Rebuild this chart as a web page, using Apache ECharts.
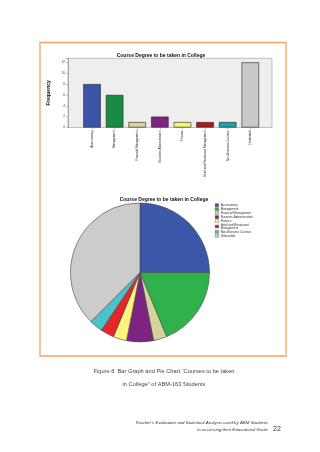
<!DOCTYPE html>
<html>
<head>
<meta charset="utf-8">
<script src="https://cdn.jsdelivr.net/npm/echarts@6/dist/echarts.min.js"></script>
<style>
  html, body { margin: 0; padding: 0; background: #fff; }
  #main { width: 320px; height: 452px; }
</style>
</head>
<body>
<div id="main"></div>
<script>
// course degree data (ABM-163 students)
const categories = [
  'Accountancy', 'Management', 'Financial Management', 'Business Administration',
  'Finance', 'Hotel and Restaurant Management', 'Non-Business Courses', 'Undecided'
];
const frequencies = [8, 6, 1, 2, 1, 1, 1, 12];
const barColors = ['#3b55a6', '#178c42', '#d9d59e', '#7d2480', '#f8f47a', '#b3161d', '#16a5a8', '#c9c9c9'];
const pieColors = ['#3a57a8', '#2fb24c', '#d6d29c', '#7b2481', '#fbf67c', '#e8262a', '#49c3c9', '#cccccc'];
const chartTitle = 'Course Degree to be taken in College';

const font = 'Liberation Sans, Arial, sans-serif';
const chart = echarts.init(document.getElementById('main'), null, { renderer: 'canvas' });

const option = {
  backgroundColor: '#fff',
  animation: false,
  title: [
    { text: chartTitle, left: 161, top: 53, textAlign: 'center', padding: 0,
      textStyle: { fontFamily: font, fontSize: 5, fontWeight: 'bold', color: '#111' } },
    { text: chartTitle, left: 164, top: 197, textAlign: 'center', padding: 0,
      textStyle: { fontFamily: font, fontSize: 5, fontWeight: 'bold', color: '#111' } }
  ],
  grid: { left: 80.7, right: 58.4, top: 58.3, bottom: 324.5, containLabel: false },
  xAxis: {
    type: 'category',
    data: categories,
    axisLine: { show: false },
    axisTick: { show: true, length: 1.5, lineStyle: { color: '#555', width: 0.5 }, alignWithLabel: true },
    axisLabel: { rotate: 90, margin: 3, fontSize: 3, fontFamily: font, color: '#333', interval: 0 }
  },
  yAxis: {
    type: 'value',
    min: 0, max: 12.75, interval: 2,
    offset: 12.7,
    name: 'Frequency', nameLocation: 'middle', nameRotate: 90, nameGap: 9,
    nameTextStyle: { fontFamily: font, fontSize: 5, fontWeight: 'bold', color: '#111' },
    axisLine: { show: true, lineStyle: { color: '#888', width: 0.6 } },
    axisTick: { show: true, length: 2, lineStyle: { color: '#888', width: 0.5 } },
    axisLabel: { fontSize: 3, margin: 3, fontFamily: font, color: '#333',
      formatter: v => (v % 2 === 0 ? String(v) : '') },
    splitLine: { show: false }
  },
  legend: {
    orient: 'vertical', left: 215, top: 203.5, padding: 0,
    itemWidth: 3.5, itemHeight: 3, itemGap: 0.7, icon: 'rect',
    data: categories,
    formatter: n => n === 'Hotel and Restaurant Management' ? 'Hotel and Restaurant\nManagement' : n,
    textStyle: { fontSize: 3, fontFamily: font, color: '#333', padding: [0, 0, 0, -3], lineHeight: 3 },
    itemStyle: { borderColor: '#333', borderWidth: 0.3 }
  },
  graphic: [
    { type: 'rect', z: 0, silent: true,
      shape: { x: 68, y: 58.3, width: 204, height: 69.2 },
      style: { fill: '#eeeeee', stroke: '#9a9a9a', lineWidth: 0.6 } },
    { type: 'rect', z: 0, silent: true,
      shape: { x: 40, y: 42.5, width: 246, height: 313.5 },
      style: { fill: null, stroke: '#f6a461', lineWidth: 1.3 } },
    { type: 'text', x: 164, y: 371.5, silent: true,
      style: { text: 'Figure 8. Bar Graph and Pie Chart \u201cCourses to be taken', align: 'center', verticalAlign: 'middle',
        font: '5.7px ' + font, fill: '#444' } },
    { type: 'text', x: 164, y: 384, silent: true,
      style: { text: 'in College\u201d of ABM-163 Students', align: 'center', verticalAlign: 'middle',
        font: '5.7px ' + font, fill: '#444' } },
    { type: 'text', x: 268, y: 423, silent: true,
      style: { text: 'Teacher\u2019s Evaluation and Statistical Analysis used by ABM Students', align: 'right', verticalAlign: 'middle',
        font: 'italic 4.4px ' + font, fill: '#333' } },
    { type: 'text', x: 268, y: 429.3, silent: true,
      style: { text: 'in assessing their Educational Goals', align: 'right', verticalAlign: 'middle',
        font: 'italic 4.4px ' + font, fill: '#333' } },
    { type: 'text', x: 273, y: 429.3, silent: true,
      style: { text: '22', align: 'left', verticalAlign: 'middle',
        font: '7px ' + font, fill: '#333' } }
  ],
  series: [
    {
      type: 'bar',
      z: 3,
      barWidth: 17.5,
      data: frequencies.map((v, i) => ({
        value: v,
        itemStyle: { color: barColors[i], borderColor: '#222', borderWidth: 0.6 }
      }))
    },
    {
      type: 'pie',
      center: [140, 272.5],
      radius: 69.5,
      startAngle: 90,
      clockwise: true,
      label: { show: false },
      labelLine: { show: false },
      emphasis: { disabled: true },
      itemStyle: { borderColor: '#444', borderWidth: 0.6 },
      data: categories.map((c, i) => ({
        name: c, value: frequencies[i], itemStyle: { color: pieColors[i] }
      }))
    }
  ]
};

chart.setOption(option);
</script>
</body>
</html>
